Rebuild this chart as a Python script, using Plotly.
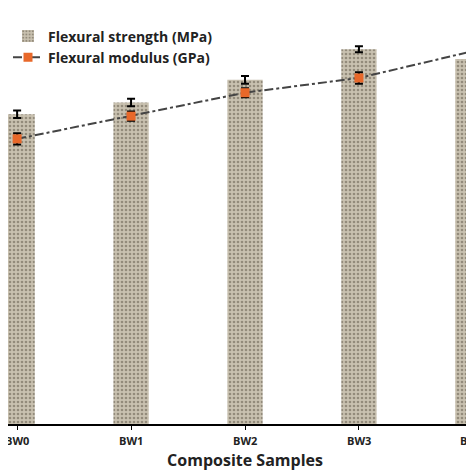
import plotly.graph_objects as go

samples = ["BW0", "BW1", "BW2", "BW3", "BW4"]
strength = [81.9, 85.0, 91.0, 99.1, 96.5]
strength_err = [1.0, 1.0, 1.0, 0.8, 1.0]
modulus = [7.54, 8.14, 8.76, 9.15, 9.86]
modulus_err = [0.15, 0.12, 0.12, 0.15, 0.15]

x = list(range(len(samples)))
fig = go.Figure()
fig.add_trace(go.Bar(
    x=x, y=strength, width=0.31, name="Flexural strength (MPa)",
    marker=dict(color="#bdb39f", line=dict(width=0),
                pattern=dict(shape=".", fgcolor="#5e5546", bgcolor="#c9c1b0", size=4, solidity=0.35)),
    error_y=dict(type="data", array=strength_err, color="black", thickness=2, width=4),
))
fig.add_trace(go.Scatter(
    x=x, y=modulus, yaxis="y2", mode="lines+markers", name="Flexural modulus (GPa)",
    line=dict(color="#444444", dash="dashdot", width=2),
    marker=dict(color="#e8682a", size=9, symbol="square"),
    error_y=dict(type="data", array=modulus_err, color="black", thickness=2, width=4),
))
for xi, s in zip(x, samples):
    fig.add_annotation(x=xi, y=0, xref="x", yref="paper", text=s, showarrow=False,
                       yanchor="top", yshift=-7, font=dict(size=11, color="#222", weight="bold"))
fig.update_layout(
    width=474, height=474, margin=dict(l=0, r=0, t=0, b=58, autoexpand=False),
    plot_bgcolor="white", paper_bgcolor="white",
    font=dict(family="Open Sans", size=12, color="#222"),
    xaxis=dict(range=[-0.08, 4.08], showticklabels=False, showline=True, linecolor="black",
               linewidth=2, ticks="outside", ticklen=4, tickwidth=1, tickcolor="black",
               tickvals=x, automargin=False,
               title=dict(text="Composite Samples", font=dict(size=16, weight="bold"), standoff=26),
               showgrid=False, zeroline=False),
    yaxis=dict(range=[0, 110], visible=False),
    yaxis2=dict(range=[0, 11], overlaying="y", visible=False),
    legend=dict(x=0, y=0.97, xanchor="left", yanchor="top", bgcolor="rgba(0,0,0,0)",
                font=dict(size=14, color="#222", weight="bold"), tracegroupgap=4),
    showlegend=True,
)
fig.write_html("out.html")
